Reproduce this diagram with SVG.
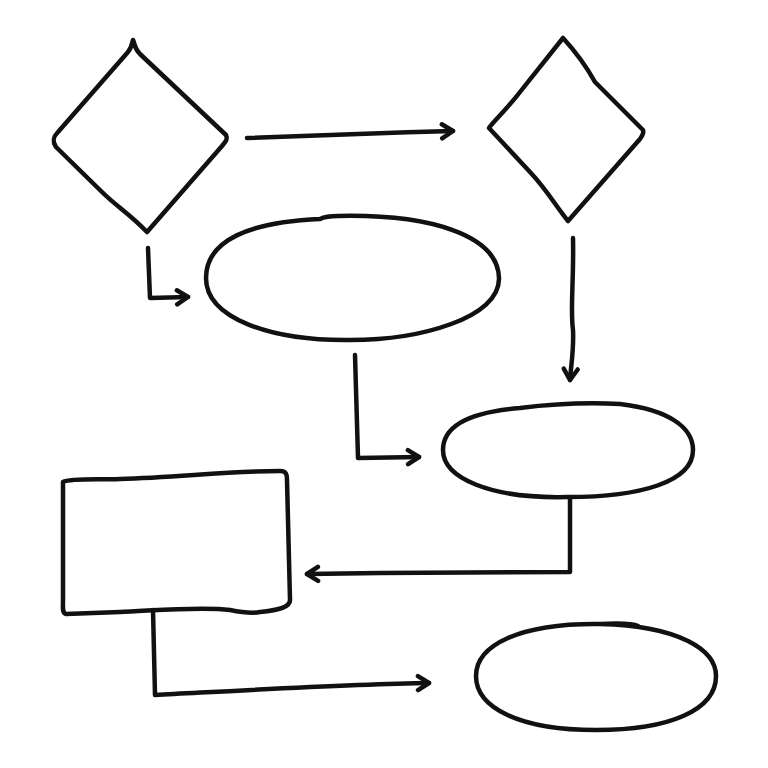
<svg xmlns="http://www.w3.org/2000/svg" width="768" height="768" viewBox="0 0 768 768">
<style>
.s{fill:none;stroke:#111;stroke-width:4.5;stroke-linecap:round;stroke-linejoin:round}
</style>
<defs>
<marker id="ah" viewBox="0 0 20 20" refX="16" refY="10" markerWidth="20" markerHeight="20" markerUnits="userSpaceOnUse" orient="auto">
<path d="M5,3 L16,10 L5,17" fill="none" stroke="#111" stroke-width="4.5" stroke-linecap="round" stroke-linejoin="round"/>
</marker>
</defs>
<rect width="768" height="768" fill="#fff"/>
<g id="decision1"><path class="s" d="M133,40 C135,44 134,48 140,54 L226,135 C228,139 226,141 222,146 L147,232 C130,214 116,206 102,192 L56,147 C52,141 53,137 58,132 L128,52 C131,48 132,45 133,40 Z"/></g>
<g id="decision2"><path class="s" d="M563,38 C574,50 585,64 595,82 L643,130 C644,133 643,135 640,139 L568,221 C555,205 547,190 530,172 L489,128 C493,122 507,109 520,92 Z"/></g>
<g id="process1"><path class="s" d="M320,219 C326,216 333,216 338,216 C430,214 498,235 499,278 C500,318 420,340 350,340 C270,341 206,318 206,278 C206,240 250,222 320,219"/></g>
<g id="process2"><path class="s" d="M520,408 C560,403 600,403 620,404 C670,410 693,428 693,450 C693,482 640,497 568,497 C490,499 443,478 443,450 C443,425 470,412 520,408"/></g>
<g id="process3"><path class="s" d="M63,482 C70,478 100,480 120,479 C180,477 230,471 280,471 C286,471 287,474 287,480 L290,600 C290,607 280,610 260,612 C250,614 240,612 230,610 C200,606 150,611 120,612 L66,614 C62,613 63,608 63,600 Z"/></g>
<g id="terminal"><path class="s" d="M600,624 C680,626 716,650 716,676 C716,710 670,730 596,730 C520,730 476,708 476,676 C476,645 520,623 600,624 C620,623 632,623 638,626"/></g>
<g id="connectors">
<path class="s" marker-end="url(#ah)" d="M247,138 C300,136 380,133 453,131"/>
<path class="s" marker-end="url(#ah)" d="M573,238 C574,280 570,310 573,330 C574,350 571,365 570,380"/>
<path class="s" marker-end="url(#ah)" d="M148,248 L150,298 L188,297"/>
<path class="s" marker-end="url(#ah)" d="M355,355 L358,458 L419,457"/>
<path class="s" marker-end="url(#ah)" d="M570,498 L570,572 L380,573 L307,574"/>
<path class="s" marker-end="url(#ah)" d="M153,610 L155,695 C250,690 350,684 429,683"/>
</g>
</svg>
